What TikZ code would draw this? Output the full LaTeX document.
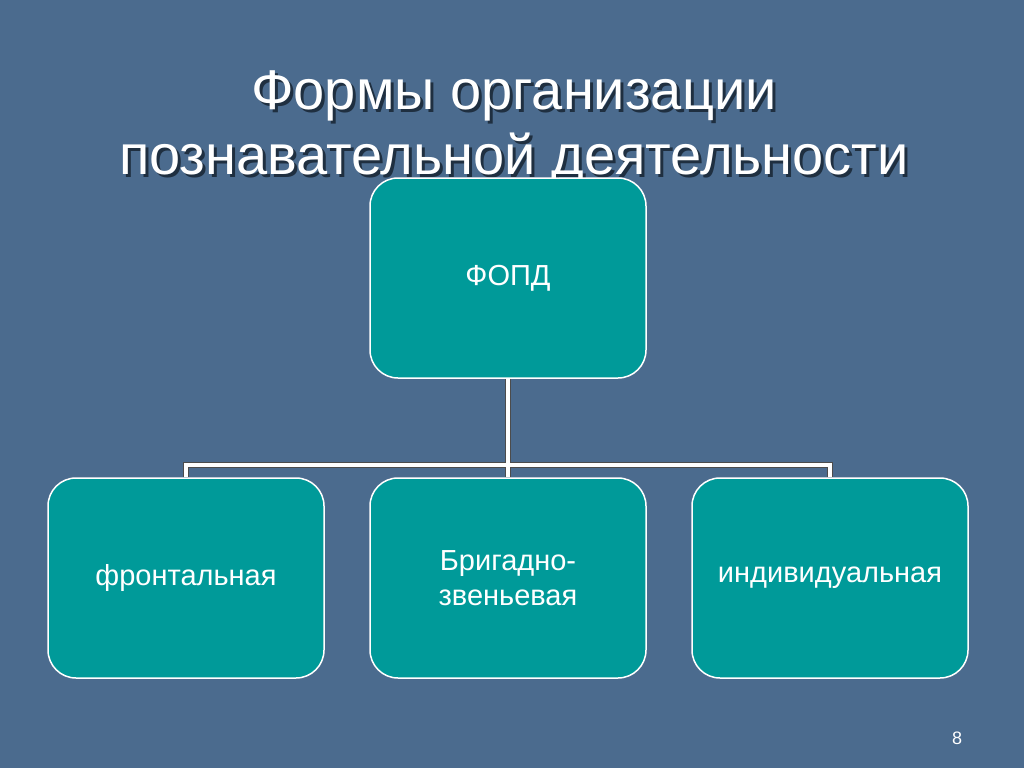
\documentclass[tikz,border=0pt]{standalone}
\usepackage{fontspec}
\setmainfont{Liberation Sans}
\begin{document}
\begin{tikzpicture}[x=1pt,y=-1pt,
  box/.style={draw=white,line width=1.5pt,fill=teal2,rounded corners=28pt,minimum width=276pt,minimum height=200pt,text=white,font=\fontsize{29}{35}\selectfont,align=center},
  conn/.style={draw=white,line width=4pt,double=white}]
\definecolor{bg}{HTML}{4B6B8E}
\definecolor{teal2}{HTML}{009A99}
\definecolor{shad}{HTML}{1F2F40}
\fill[bg] (0,0) rectangle (1024,768);
\useasboundingbox (0,0) rectangle (1024,768);
\node[text=shad,font=\fontsize{56}{65}\selectfont,align=center] at (517,131) {Формы организации\\познавательной деятельности};
\node (title)[text=white,font=\fontsize{56}{65}\selectfont,align=center] at (514,128) {Формы организации\\познавательной деятельности};
\node[box] (top) at (508,278) {ФОПД};
\node[box] (b1) at (186,578) {фронтальная};
\node[box] (b2) at (508,578) {Бригадно-\\звеньевая};
\node[box] (b3) at (830,578) {индивидуальная};
\coordinate (j) at (508,465);
\draw[gray!60!black,line width=5.5pt] (top.south) -- (j) (b1.north) |- (j) -| (b3.north) (j) -- (b2.north);
\draw[white,line width=3.5pt] (top.south) -- (j) (b1.north) |- (j) -| (b3.north) (j) -- (b2.north);
\node (pg)[text=white,font=\fontsize{18}{21}\selectfont] at (957,738) {8};
\end{tikzpicture}
\end{document}
